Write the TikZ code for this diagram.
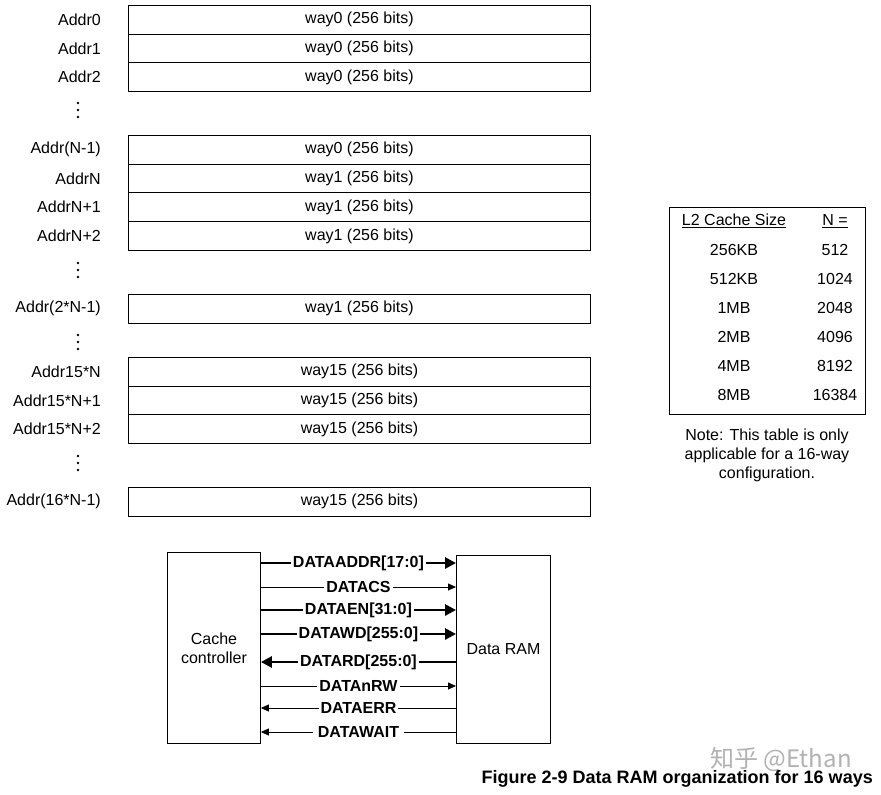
\documentclass[tikz,border=0pt]{standalone}
\usepackage{fontspec}
\setmainfont{Liberation Sans}
\newfontfamily\cjkfont{Noto Sans CJK SC}
\usetikzlibrary{arrows.meta}
\begin{document}
\begin{tikzpicture}[x=1pt,y=-1pt,
  txt/.style={font=\fontsize{16}{19}\selectfont, inner sep=0pt},
  row/.style={txt, draw, line width=0.9pt, minimum width=462pt, minimum height=28.7pt, anchor=north west},
  addr/.style={txt, anchor=east},
  vdot/.style={circle, fill=black, inner sep=0pt, minimum size=2.8pt},
  blk/.style={draw, line width=0.9pt, txt, align=center},
  sig/.style={txt, font=\fontsize{16}{19}\selectfont\bfseries, fill=white, inner xsep=2pt, inner ysep=1pt},
  thickarr/.style={line width=2.8pt, -{Triangle[length=11pt,width=11pt]}},
  thinarr/.style={line width=0.8pt, -{Triangle[length=8pt,width=7pt]}},
  thickline/.style={line width=2.8pt},
  thinline/.style={line width=0.8pt}
]
\useasboundingbox[fill=white] (0,0) rectangle (881,795);

% memory rows
\foreach \n/\y/\w/\a in {
  1/5/way0/Addr0,
  2/33.7/way0/Addr1,
  3/62.4/way0/Addr2,
  4/135/way0/Addr(N-1),
  5/163.7/way1/AddrN,
  6/192.4/way1/AddrN+1,
  7/221.1/way1/AddrN+2,
  8/294/way1/Addr(2*N-1),
  9/357/way15/Addr15*N,
  10/385.7/way15/Addr15*N+1,
  11/414.4/way15/Addr15*N+2,
  12/487/way15/Addr(16*N-1)}{
  \node[row] (r\n) at (128,\y) {\w\ (256 bits)};
  \node[addr] (a\n) at ([xshift=-27pt]r\n.west) {\a};
}

% vertical dots
\foreach \k/\y in {1/110, 2/270, 3/342, 4/463}{
  \node[vdot] (d\k a) at (78,\y-7) {};
  \node[vdot] (d\k b) at (78,\y) {};
  \node[vdot] (d\k c) at (78,\y+7) {};
}

% table
\node[draw, line width=0.9pt, minimum width=196pt, minimum height=207pt, anchor=north west, inner sep=0pt] (tbl) at (669,207) {};
\node[txt] (h1) at (734,221) {\underline{L2 Cache Size}};
\node[txt] (h2) at (835,221) {\underline{N =}};
\foreach \k/\y/\s/\v in {1/250/256KB/512, 2/279/512KB/1024, 3/308/1MB/2048, 4/337/2MB/4096, 5/366/4MB/8192, 6/395/8MB/16384}{
  \node[txt] (s\k) at (734,\y) {\s};
  \node[txt] (v\k) at (835,\y) {\v};
}
\node[txt, align=center] (note) at (767,455) {Note: This table is only\\applicable for a 16-way\\configuration.};

% block diagram
\node[blk, minimum width=93pt, minimum height=191pt, anchor=north west] (cc) at (167,552) {Cache\\controller};
\node[blk, minimum width=94pt, minimum height=188pt, anchor=north west] (dr) at (456,555) {Data RAM};

\draw[thickarr] (cc.east|-0,563) -- (dr.west|-0,563) node[sig, midway] {DATAADDR[17:0]};
\draw[thinarr]  (cc.east|-0,587) -- (dr.west|-0,587) node[sig, midway] {DATACS};
\draw[thickarr] (cc.east|-0,610) -- (dr.west|-0,610) node[sig, midway] {DATAEN[31:0]};
\draw[thickarr] (cc.east|-0,634) -- (dr.west|-0,634) node[sig, midway] {DATAWD[255:0]};
\draw[thickarr] (dr.west|-0,662) -- (cc.east|-0,662) node[sig, midway] {DATARD[255:0]};
\draw[thinarr]  (cc.east|-0,686) -- (dr.west|-0,686) node[sig, midway] {DATAnRW};
\draw[thinarr]  (dr.west|-0,708) -- (cc.east|-0,708) node[sig, midway] {DATAERR};
\draw[thinarr]  (dr.west|-0,732) -- (cc.east|-0,732) node[sig, midway, inner xsep=5pt] {DATAWAIT};

% watermark and caption
\node[text=black!30, font=\cjkfont\fontsize{24}{28}\selectfont, inner sep=0pt] (wm) at (781,759) {知乎 @Ethan};
\node[anchor=east, font=\fontsize{18}{21}\selectfont\bfseries, inner sep=0pt] (cap) at (873,779) {Figure 2-9 Data RAM organization for 16 ways};
\end{tikzpicture}
\end{document}
